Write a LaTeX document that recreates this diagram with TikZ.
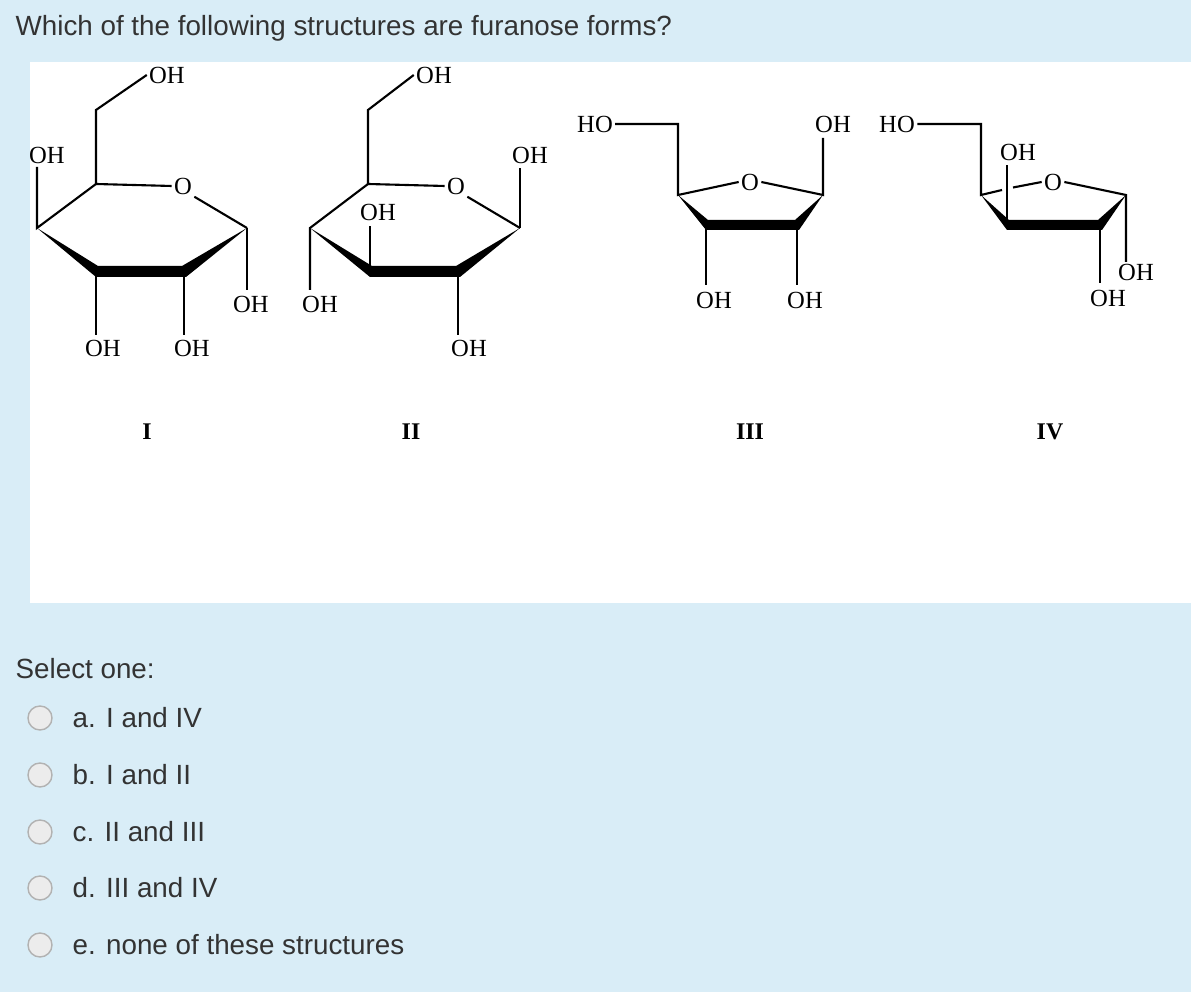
\documentclass[tikz,border=0pt]{standalone}
\usepackage{fontspec}
\setmainfont{Liberation Serif}
\newfontfamily\uisans{Liberation Sans}
\definecolor{bgblue}{HTML}{D9EDF7}
\definecolor{txt}{HTML}{333333}
\begin{document}
\begin{tikzpicture}[x=0.01cm,y=-0.01cm,
  bond/.style={line width=0.6pt},
  lab/.style={font=\fontsize{7pt}{8pt}\selectfont,inner sep=0.5pt},
  roman/.style={font=\fontsize{6.8pt}{8pt}\selectfont\bfseries},
  ui/.style={font=\uisans\fontsize{7.9pt}{9pt}\selectfont,text=txt,anchor=west,inner sep=0pt},
  radio/.style={circle,draw=gray!60,fill=gray!15,minimum size=0.24cm,inner sep=0pt}]
\useasboundingbox (0,0) rectangle (1191,992);
\fill[bgblue] (0,0) rectangle (1191,992);
\fill[white] (30,62) rectangle (1191,603);
\node[ui] (title) at (15,28) {Which of the following structures are furanose forms?};
\node[ui] (sel) at (15,669) {Select one:};
\foreach \y/\t [count=\i] in {718/a. I and IV,775/b. I and II,832/c. II and III,888/d. III and IV,945/e. none of these structures}{
  \node[radio] (r\i) at (40,\y) {};
  \node[ui] (o\i) at (72,\y) {\t};
}
% ---- I ----
\node[lab] (I1) at (167,75) {OH};
\node[lab] (IO) at (183,186) {O};
\node[lab] (I2) at (47,155) {OH};
\node[lab] (I3) at (251,304) {OH};
\node[lab] (I4) at (103,348) {OH};
\node[lab] (I5) at (192,348) {OH};
\coordinate (Ic6) at (96,110); \coordinate (Ic5) at (96,184);
\coordinate (Ic4) at (37,228); \coordinate (Ic3) at (96,272);
\coordinate (Ic2) at (184,272); \coordinate (Ic1) at (247,228);
\draw[bond] (I1.west) -- (Ic6) -- (Ic5) -- (IO.west);
\draw[bond] (IO.south east) -- (Ic1);
\draw[bond] (Ic5) -- (Ic4) -- (37,167);
\draw[bond] (Ic1) -- (247,290);
\draw[bond] (Ic3) -- (96,335);
\draw[bond] (Ic2) -- (184,335);
\fill (Ic4) -- (98,266) -- (182,266) -- (Ic1) -- (186,277) -- (96,277) -- cycle;
\node[roman] (IL) at (147,432) {I};
% ---- II ----
\node[lab] (J1) at (434,75) {OH};
\node[lab] (JO) at (456,186) {O};
\node[lab] (J2) at (530,155) {OH};
\node[lab] (J3) at (320,304) {OH};
\node[lab] (J4) at (378,212) {OH};
\node[lab] (J5) at (469,348) {OH};
\coordinate (Jc6) at (368,110); \coordinate (Jc5) at (368,184);
\coordinate (Jc4) at (310,228); \coordinate (Jc3) at (370,272);
\coordinate (Jc2) at (458,272); \coordinate (Jc1) at (520,228);
\draw[bond] (J1.west) -- (Jc6) -- (Jc5) -- (JO.west);
\draw[bond] (JO.south east) -- (Jc1);
\draw[bond] (Jc5) -- (Jc4) -- (310,290);
\draw[bond] (Jc1) -- (520,168);
\draw[bond] (Jc3) -- (370,226);
\draw[bond] (Jc2) -- (458,335);
\fill (Jc4) -- (372,266) -- (456,266) -- (Jc1) -- (460,277) -- (370,277) -- cycle;
\node[roman] (JL) at (411,432) {II};
% ---- III ----
\node[lab] (K1) at (595,124) {HO};
\node[lab] (KO) at (750,182) {O};
\node[lab] (K2) at (833,124) {OH};
\node[lab] (K3) at (714,300) {OH};
\node[lab] (K4) at (805,300) {OH};
\coordinate (Kc5) at (678,124); \coordinate (Kc4) at (678,195);
\coordinate (Kc3) at (706,225); \coordinate (Kc2) at (797,225);
\coordinate (Kc1) at (823,195);
\draw[bond] (K1.east) -- (Kc5) -- (Kc4) -- (KO.west);
\draw[bond] (KO.east) -- (Kc1) -- (823,138);
\draw[bond] (Kc3) -- (706,285);
\draw[bond] (Kc2) -- (797,285);
\fill (Kc4) -- (708,220) -- (795,220) -- (Kc1) -- (799,230) -- (706,230) -- cycle;
\node[roman] (KL) at (750,432) {III};
% ---- IV ----
\node[lab] (L1) at (897,124) {HO};
\node[lab] (LO) at (1053,182) {O};
\node[lab] (L2) at (1018,152) {OH};
\node[lab] (L3) at (1136,272) {OH};
\node[lab] (L4) at (1108,298) {OH};
\coordinate (Lc5) at (981,124); \coordinate (Lc4) at (981,195);
\coordinate (Lc3) at (1007,225); \coordinate (Lc2) at (1100,225);
\coordinate (Lc1) at (1126,195);
\draw[bond] (L1.east) -- (Lc5) -- (Lc4) -- (1002,190);
\draw[bond] (1013,187.5) -- (LO.west);
\draw[bond] (LO.east) -- (Lc1) -- (1126,262);
\draw[bond] (Lc3) -- (1007,165);
\draw[bond] (Lc2) -- (1100,283);
\fill (Lc4) -- (1009,220) -- (1098,220) -- (Lc1) -- (1102,230) -- (1007,230) -- cycle;
\node[roman] (LL) at (1050,432) {IV};
\end{tikzpicture}
\end{document}
